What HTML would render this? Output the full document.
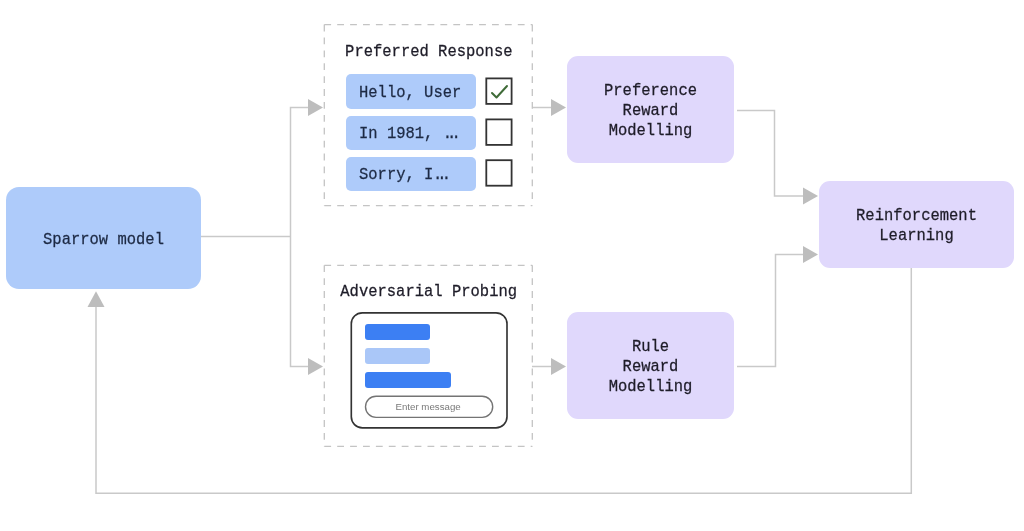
<!DOCTYPE html>
<html>
<head>
<meta charset="utf-8">
<style>
html,body{margin:0;padding:0;background:#ffffff;}
body{width:1024px;height:531px;position:relative;overflow:hidden;font-family:"Liberation Mono",monospace;}
#w{position:absolute;left:0;top:0;width:1024px;height:531px;filter:blur(0.35px);}
.box{position:absolute;border-radius:13px;}
.blue{background:#aecbfa;}
.purple{background:#e0d8fc;border-radius:11px;}
.t{position:absolute;white-space:pre;font-size:15.5px;line-height:18.6px;transform:scaleY(1.07);transform-origin:0 0;color:#1e1c28;text-align:center;-webkit-text-stroke:0.25px currentColor;}
.resp{position:absolute;left:346px;width:130px;height:34.6px;border-radius:5px;background:#aecbfa;}
.rt{position:absolute;left:359px;white-space:pre;font-size:15.5px;line-height:18.93px;transform:scaleY(1.07);transform-origin:0 0;color:#1d2a44;-webkit-text-stroke:0.25px currentColor;}

svg{position:absolute;left:0;top:0;}
.ell{letter-spacing:-4.9px;margin-left:0px;}
.ell2{letter-spacing:-4.9px;margin-left:-0.5px;}
</style>
</head>
<body><div id="w">
<svg width="1024" height="531" viewBox="0 0 1024 531">
  <g fill="none" stroke="#c9c9c9" stroke-width="1.5">
    <!-- sparrow to branches -->
    <polyline points="201,236.5 290.5,236.5"/>
    <polyline points="309,107.5 290.5,107.5 290.5,366.5 309,366.5"/>
    <!-- dashed box to reward models -->
    <line x1="532" y1="107.5" x2="552" y2="107.5"/>
    <line x1="532" y1="366.5" x2="552" y2="366.5"/>
    <!-- reward models to RL -->
    <polyline points="737,110.5 774.5,110.5 774.5,196 804,196"/>
    <polyline points="737,366.5 775.5,366.5 775.5,254.5 804,254.5"/>
    <!-- feedback loop -->
    <polyline points="911.3,268 911.3,493.2 96,493.2 96,306"/>
  </g>
  <g fill="none" stroke="#c4c4c4" stroke-width="1.3" stroke-dasharray="6.8 6.1">
    <line x1="324.3" y1="24.6" x2="532.3" y2="24.6"/>
    <line x1="324.3" y1="24.6" x2="324.3" y2="205.6"/>
    <line x1="532.3" y1="24.6" x2="532.3" y2="205.6"/>
    <line x1="324.3" y1="205.6" x2="532.3" y2="205.6"/>
    <line x1="324.3" y1="265.3" x2="532.3" y2="265.3"/>
    <line x1="324.3" y1="265.3" x2="324.3" y2="446.3"/>
    <line x1="532.3" y1="265.3" x2="532.3" y2="446.3"/>
    <line x1="324.3" y1="446.3" x2="532.3" y2="446.3"/>
  </g>
  <g fill="#bdbdbd">
    <polygon points="308,99 323,107.5 308,116"/>
    <polygon points="308,358 323,366.5 308,375"/>
    <polygon points="551,99 566,107.5 551,116"/>
    <polygon points="551,358 566,366.5 551,375"/>
    <polygon points="803,187.5 818,196 803,204.5"/>
    <polygon points="803,246 818,254.5 803,263"/>
    <polygon points="87.5,307 96,291.3 104.5,307"/>
  </g>
</svg>

<!-- Sparrow model -->
<div class="box blue" style="left:6px;top:187px;width:195px;height:101.6px;"></div>
<div class="t" style="left:6px;top:229.5px;width:195px;color:#1d2a44;">Sparrow model</div>

<!-- Preferred Response -->
<div class="t" style="left:324.8px;top:41.9px;width:208px;">Preferred Response</div>
<div class="resp" style="top:74.4px;"></div>
<div class="rt" style="top:82.9px;">Hello, User</div>
<div class="resp" style="top:115.5px;"></div>
<div class="rt" style="top:124px;">In 1981, <span class="ell">...</span></div>
<div class="resp" style="top:156.6px;"></div>
<div class="rt" style="top:165.2px;">Sorry, I<span class="ell2">...</span></div>
<svg width="1024" height="531" viewBox="0 0 1024 531">
  <g fill="#fff" stroke="#333" stroke-width="1.8">
    <rect x="486.3" y="78.4" width="25.3" height="25.5"/>
    <rect x="486.3" y="119.4" width="25.3" height="25.5"/>
    <rect x="486.3" y="160.2" width="25.3" height="25.5"/>
  </g>
  <polyline points="492,93 496.5,97.5 507,86" fill="none" stroke="#3f6b38" stroke-width="2" stroke-linecap="round" stroke-linejoin="round"/>
</svg>

<!-- Adversarial Probing -->
<div class="t" style="left:324.7px;top:282px;width:208px;">Adversarial Probing</div>
<svg width="1024" height="531" viewBox="0 0 1024 531"><rect x="351.3" y="312.8" width="155.7" height="115" rx="11" fill="#fff" stroke="#333" stroke-width="1.65"/></svg>
<div style="position:absolute;left:365px;top:324px;width:65px;height:16px;border-radius:3px;background:#3c7ff3;"></div>
<div style="position:absolute;left:365px;top:348px;width:65px;height:16px;border-radius:3px;background:#aac7f8;"></div>
<div style="position:absolute;left:365px;top:371.5px;width:86px;height:16px;border-radius:3px;background:#3c7ff3;"></div>
<svg width="1024" height="531" viewBox="0 0 1024 531"><rect x="365.5" y="396.2" width="127.2" height="21.2" rx="10.6" fill="none" stroke="#747474" stroke-width="1.4"/></svg>
<div style="position:absolute;left:363.6px;top:400.5px;width:129px;text-align:center;font-family:'Liberation Sans',sans-serif;font-size:9.7px;line-height:12px;color:#7a7a7a;">Enter message</div>

<!-- Preference Reward Modelling -->
<div class="box purple" style="left:567px;top:55.6px;width:166.6px;height:107px;"></div>
<div class="t" style="left:567px;top:80.6px;width:167px;">Preference
Reward
Modelling</div>

<!-- Rule Reward Modelling -->
<div class="box purple" style="left:567px;top:312px;width:166.6px;height:107.3px;"></div>
<div class="t" style="left:567px;top:336.9px;width:167px;">Rule
Reward
Modelling</div>

<!-- Reinforcement Learning -->
<div class="box purple" style="left:819px;top:181px;width:195px;height:87px;"></div>
<div class="t" style="left:819px;top:205.6px;width:195px;">Reinforcement
Learning</div>
</div></body>
</html>
